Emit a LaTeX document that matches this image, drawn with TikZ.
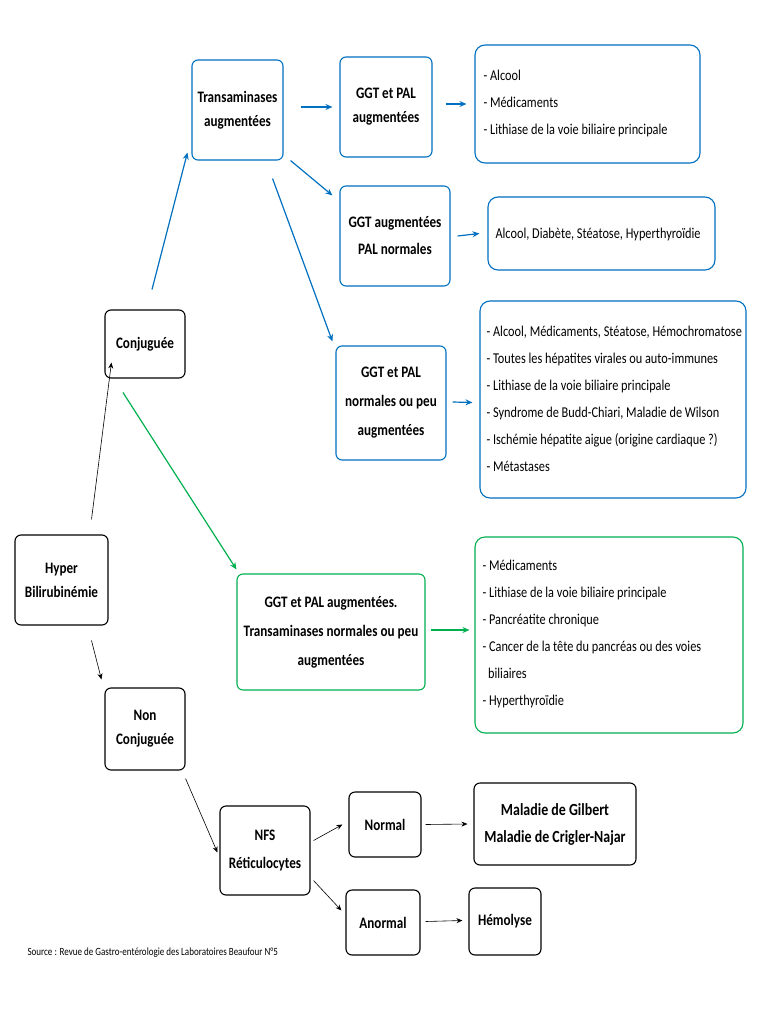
\documentclass[tikz,border=0pt]{standalone}
\usepackage{fontspec}
\setmainfont{Carlito}[FakeStretch=0.82]
\usetikzlibrary{arrows.meta,calc}
\definecolor{bl}{RGB}{0,112,192}
\definecolor{gr}{RGB}{0,176,80}
\begin{document}
\begin{tikzpicture}[x=1pt,y=-1pt,
 box/.style={draw,rounded corners=6pt,line width=1.1pt,inner sep=0pt},
 lst/.style={draw,rounded corners=10pt,line width=1.1pt,inner sep=0pt},
 bt/.style={font=\fontsize{16}{24}\selectfont\bfseries,align=center},
 lt/.style={font=\fontsize{15}{27}\selectfont,align=left,anchor=west},
 ar/.style={-{Stealth[length=6pt,width=5pt]},line width=0.6pt},
 ab/.style={-{Stealth[length=7pt,width=6pt]},line width=1.2pt,bl}]
\useasboundingbox[fill=white] (0,0) rectangle (768,1024);
\newcommand\bx[6]{\node[#1,minimum width=#4-#2,minimum height=#5-#3] (#6) at ({(#2+#4)/2},{(#3+#5)/2}) {};}
\bx{box}{15}{535}{108}{625}{hyp}\node[bt] at (hyp) {Hyper\\Bilirubinémie};
\bx{box}{105}{310}{185}{378}{conj}\node[bt] at (conj) {Conjuguée};
\bx{box}{105}{688}{185}{770}{non}\node[bt] at (non) {Non\\Conjuguée};
\bx{box,bl}{192}{60}{283}{160}{tr}\node[bt] at (tr) {Transaminases\\augmentées};
\bx{box,bl}{340}{57}{432}{157}{g1}\node[bt] at (g1) {GGT et PAL\\augmentées};
\bx{box,bl}{340}{186}{450}{286}{g2}\node[bt,font=\fontsize{16}{27}\selectfont\bfseries] at (g2) {GGT augmentées\\PAL normales};
\bx{box,bl}{336}{346}{446}{460}{g3}\node[bt,font=\fontsize{16}{29}\selectfont\bfseries] at (g3) {GGT et PAL\\normales ou peu\\augmentées};
\bx{box,gr}{237}{574}{425}{690}{gg}\node[bt,font=\fontsize{16}{29}\selectfont\bfseries] at (gg) {GGT et PAL augmentées.\\Transaminases normales ou peu\\augmentées};
\bx{box}{220}{806}{310}{895}{nfs}\node[bt,font=\fontsize{16}{28}\selectfont\bfseries] at (nfs) {NFS\\Réticulocytes};
\bx{box}{349}{792}{421}{857}{nor}\node[bt] at (nor) {Normal};
\bx{box}{346}{890}{420}{955}{ano}\node[bt] at (ano) {Anormal};
\bx{box}{474}{783}{636}{865}{gil}\node[bt,font=\fontsize{17}{27}\selectfont\bfseries] at (gil) {Maladie de Gilbert\\Maladie de Crigler-Najar};
\bx{box}{469}{888}{541}{955}{hem}\node[bt] at (hem) {Hémolyse};
\bx{lst,bl}{475}{45}{700}{163}{l1}\node[lt] at (480,104) {- Alcool\\- Médicaments\\- Lithiase de la voie biliaire principale};
\bx{lst,bl}{488}{197}{715}{270}{l2}\node[lt] at (492,235) {Alcool, Diabète, Stéatose, Hyperthyroïdie};
\bx{lst,bl}{480}{301}{746}{498}{l3}\node[lt] at (483,399) {- Alcool, Médicaments, Stéatose, Hémochromatose\\- Toutes les hépatites virales ou auto-immunes\\- Lithiase de la voie biliaire principale\\- Syndrome de Budd-Chiari, Maladie de Wilson\\- Ischémie hépatite aigue (origine cardiaque ?)\\- Métastases};
\bx{lst,gr}{475}{537}{743}{733}{l4}\node[lt] at (479,634) {- Médicaments\\- Lithiase de la voie biliaire principale\\- Pancréatite chronique\\- Cancer de la tête du pancréas ou des voies\\\ \ biliaires\\- Hyperthyroïdie};
\node[font=\fontsize{11}{12}\selectfont,anchor=west] (src) at (24,953) {Source : Revue de Gastro-entérologie des Laboratoires Beaufour N°5};
\draw[ar] ($(hyp.north)+(30,-15)$) -- ($(conj.south west)+(7,-16)$);
\draw[ar] ($(hyp.south)+(30,15)$) -- ($(non.north west)+(-3,-8)$);
\draw[ab] ($(conj.north)+(7,-20)$) -- ($(tr.south west)+(-4,-8)$);
\draw[ab] ($(tr.east)+(17,-3)$) -- ($(g1.west)+(-7,0)$);
\draw[ab] ($(tr.south east)+(7,0)$) -- ($(g2.north west)+(-7,10)$);
\draw[ab] ($(tr.south east)+(-11,18)$) -- ($(g3.north west)+(-3,-4)$);
\draw[ab] ($(g1.east)+(13,-3)$) -- ($(l1.west)+(-8,0)$);
\draw[ab] ($(g2.east)+(7,0)$) -- ($(l2.west)+(-8,0)$);
\draw[ab] ($(g3.east)+(6,-1)$) -- ($(l3.west)+(-7,3)$);
\draw[ab,gr] ($(conj.south)+(-22,14)$) -- ($(gg.north west)+(0,-4)$);
\draw[ab,gr] ($(gg.east)+(5,-2)$) -- ($(l4.west)+(-5,-5)$);
\draw[ar] ($(non.south east)+(0,8)$) -- ($(nfs.west)+(-2,2)$);
\draw[ar] ($(nfs.east)+(3,-10)$) -- ($(nor.west)+(-6,0)$);
\draw[ar] ($(nfs.south east)+(3,-15)$) -- ($(ano.west)+(-4,-12)$);
\draw[ar] ($(nor.east)+(4,0)$) -- ($(gil.west)+(-6,0)$);
\draw[ar] ($(ano.east)+(5,-1)$) -- ($(hem.west)+(-6,-1)$);
\end{tikzpicture}
\end{document}
